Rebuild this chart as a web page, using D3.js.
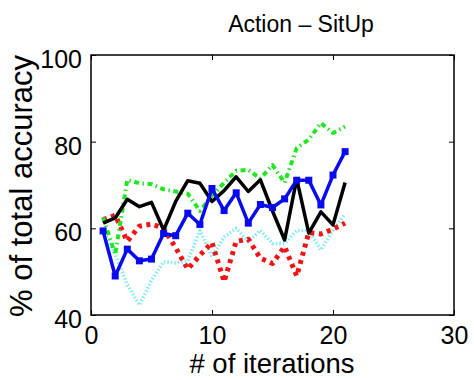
<!DOCTYPE html>
<html><head><meta charset="utf-8">
<script src="https://cdn.jsdelivr.net/npm/d3@7"></script>
<style>body{margin:0;background:#fff}svg{display:block}text{font-family:"Liberation Sans",Arial,sans-serif;fill:#000}</style>
</head><body><svg id="c" width="474" height="380"></svg>
<script>
const iterations = d3.range(1, 22);
const blueVals  = [59.4,49,55.2,52.5,52.9,58.8,58.3,63.5,60.9,69.2,64.1,68.2,61.2,65.5,64.8,66.8,71.1,71.1,65.4,72.3,77.7];
const blackVals = [61.2,62.4,66.7,65,66,59.6,66.2,71,70.4,66.2,68.7,71.9,68.5,71.2,64,57.3,71.4,58.9,63.8,60.8,70.6];
const greenVals = [62.5,54,71.2,70.4,70.2,69,68.5,68,64,67.5,70.5,73.3,73.5,71.5,74.6,70.5,78.5,80.5,84.3,82,83.5];
const redVals   = [62,63,57,60.5,61,60,55.5,50.6,53.8,56.7,47.7,57,57.5,53.1,51.9,55.8,49,59,58.7,59.8,61.2];
const cyanVals  = [59.5,54,47,42.3,48,52.3,52,52.5,59.5,53.5,58,60,57,59.5,56.5,56.5,59.5,59.5,55,59.5,63.3];
const xTicks = [0,10,20,30];
const yTicks = [40,60,80,100];
const titleText = "Action – SitUp";
const xLabel = "# of iterations";
const yLabel = "% of total accuracy";

const L=91,R=454,T=55,B=315;
const svg=d3.select("#c");
const x=d3.scaleLinear().domain([0,30]).range([L,R]);
const y=d3.scaleLinear().domain([40,100]).range([B,T]);

const series=[
 {v:cyanVals, color:"#86e8f0", w:3.5, dash:"1.5,2", cap:"butt"},
 {v:redVals, color:"#f01414", w:5, dash:"4,4.5", cap:"butt"},
 {v:greenVals, color:"#22e622", w:4, dash:"5,3.5,1.5,3.5", cap:"butt"},
 {v:blackVals, color:"#000000", w:3.5, dash:null},
 {v:blueVals, color:"#0a0aee", w:3.5, dash:null, marker:true}
];
const line=d3.line().x((d,i)=>x(iterations[i])).y(d=>y(d));
const g=svg.append("g");
series.forEach(s=>{
  const p=g.append("path").attr("d",line(s.v)).attr("fill","none")
   .attr("stroke",s.color).attr("stroke-width",s.w).attr("stroke-linejoin","round");
  if(s.dash) p.attr("stroke-dasharray",s.dash).attr("stroke-linecap",s.cap);
  if(s.marker){
    g.selectAll(null).data(s.v).enter().append("rect")
     .attr("x",(d,i)=>x(iterations[i])-3.5).attr("y",d=>y(d)-3.5)
     .attr("width",7).attr("height",7).attr("fill",s.color);
  }
});

// axes box
svg.append("rect").attr("x",L).attr("y",T).attr("width",R-L).attr("height",B-T)
 .attr("fill","none").attr("stroke","#000").attr("stroke-width",1.5);
const xb=svg.append("g").attr("transform",`translate(0,${B})`)
 .call(d3.axisBottom(x).tickValues(xTicks).tickSize(-5).tickPadding(11).tickFormat(d3.format("d")));
const xt=svg.append("g").attr("transform",`translate(0,${T})`)
 .call(d3.axisTop(x).tickValues(xTicks).tickSize(-5).tickFormat(""));
const yl=svg.append("g").attr("transform",`translate(${L},0)`)
 .call(d3.axisLeft(y).tickValues(yTicks).tickSize(-5).tickPadding(9).tickFormat(d3.format("d")));
const yr=svg.append("g").attr("transform",`translate(${R},0)`)
 .call(d3.axisRight(y).tickValues(yTicks).tickSize(-5).tickFormat(""));
[xb,xt,yl,yr].forEach(a=>{a.select(".domain").remove();a.selectAll("line").attr("stroke","#000").attr("stroke-width",1);});
xb.selectAll("text").attr("font-size",25).attr("font-family","'Liberation Sans',Arial,sans-serif").attr("fill","#000");
yl.selectAll("text").attr("font-size",25).attr("font-family","'Liberation Sans',Arial,sans-serif").attr("fill","#000").attr("dy","0.5em");

svg.append("text").attr("x",301).attr("y",32).attr("text-anchor","middle").attr("font-size",23).text(titleText);
svg.append("text").attr("x",272).attr("y",373).attr("text-anchor","middle").attr("font-size",27.5).text(xLabel);
svg.append("text").attr("transform","translate(32,186) rotate(-90)").attr("text-anchor","middle").attr("font-size",31).text(yLabel);
</script></body></html>
